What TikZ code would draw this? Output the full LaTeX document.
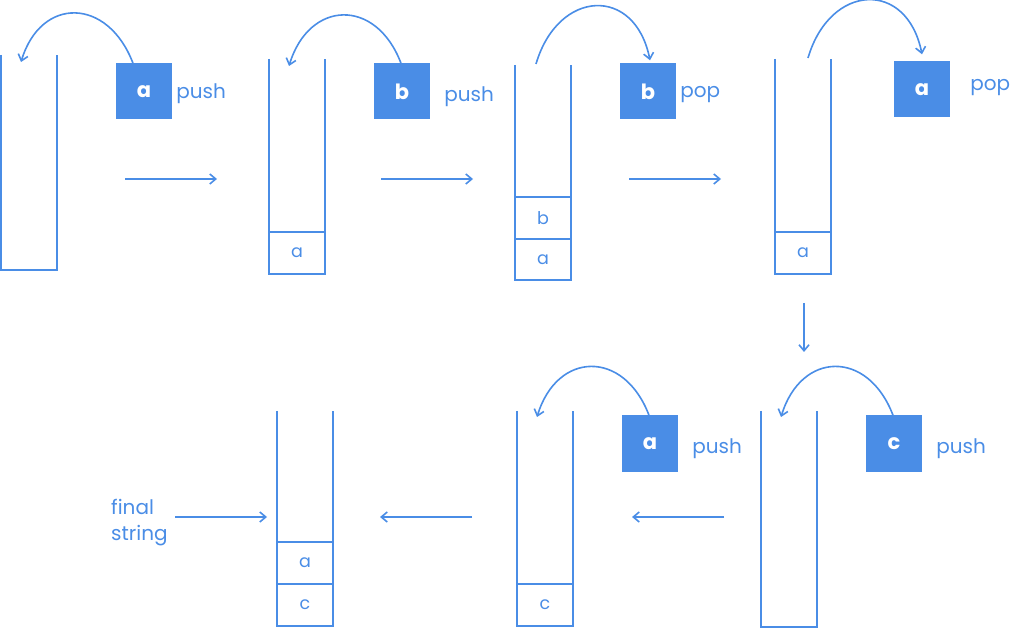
\documentclass[tikz,border=0pt]{standalone}
\usepackage{fontspec}
\setmainfont{Poppins}
\usepackage{tikz}
\usetikzlibrary{arrows.meta,positioning}
\definecolor{stackblue}{RGB}{74,141,230}

\begin{document}
\begin{tikzpicture}[
x=1pt, y=-1pt,
font=\fontsize{20}{26}\selectfont,
every node/.style={text=stackblue},
cell/.style={draw=stackblue, line width=1.6pt, minimum width=56pt, minimum height=42pt, inner sep=0pt, font=\fontsize{17.5}{20}\selectfont},
item/.style={fill=stackblue, minimum size=56pt, inner sep=0pt, text=white, font=\fontsize{21}{24}\selectfont\bfseries},
op/.style={inner sep=0pt},
wall/.style={draw=stackblue, line width=1.6pt},
arr/.style={-{Straight Barb[length=6pt,width=10pt]}, line width=1.6pt, draw=stackblue}
]
\useasboundingbox (0,0) rectangle (1010,628);

% stack walls
\draw[wall] (1,55) |- (57,270) -- (57,55);
\draw[wall] (269,59) |- (325,274) -- (325,59);
\draw[wall] (515,65) |- (571,280) -- (571,65);
\draw[wall] (775,59) |- (831,274) -- (831,59);
\draw[wall] (761,411) |- (817,627) -- (817,411);
\draw[wall] (517,411) |- (573,626) -- (573,411);
\draw[wall] (277,411) |- (333,626) -- (333,411);

% stack contents
\node[cell] (s2a) at (297,253) {a};
\node[cell, minimum height=41pt] (s3a) at (543,259.5) {a};
\node[cell] (s3b) at (543,218) {b};
\node[cell] (s4a) at (803,253) {a};
\node[cell] (s6c) at (545,605) {c};
\node[cell] (s7c) at (305,605) {c};
\node[cell] (s7a) at (305,563) {a};

% moving items
\node[item] (pa) at (144,91.5) {a};
\node[item] (pb) at (402,91.5) {b};
\node[item] (pc) at (648,91.5) {b};
\node[item] (pd) at (922,89.5) {a};
\node[item] (pe) at (894,443.5) {c};
\node[item] (pf) at (650,443.5) {a};
\node[op, right=4pt of pa, yshift=-2pt] (opa) {push};
\node[op, right=14pt of pb, yshift=-5pt] (opb) {push};
\node[op, right=4pt of pc, yshift=-3pt] (opc) {pop};
\node[op, right=20pt of pd, yshift=2pt] (opd) {pop};
\node[op, right=14pt of pe, yshift=-5pt] (ope) {push};
\node[op, right=14pt of pf, yshift=-5pt] (opf) {push};
\node[op, anchor=west, align=left] (final) at (111,523) {final\\string};

% stack tops
\coordinate (in1) at (21,62);
\coordinate (in2) at (289,66);
\coordinate (out3) at (536,64);
\coordinate (out4) at (808,58);
\coordinate (in5) at (781,417);
\coordinate (in6) at (537,417);

\draw[arr] ([xshift=-11pt]pa.north) .. controls +(-25,-66) and +(20,-66) .. (in1);
\draw[arr] ([xshift=-1pt]pb.north) .. controls +(-25,-66) and +(20,-66) .. (in2);
\draw[arr] (out3) .. controls +(22,-75) and +(-15,-75) .. ([shift={(2pt,3pt)}]pc.north);
\draw[arr] (out4) .. controls +(22,-75) and +(-15,-75) .. ([yshift=7pt]pd.north);
\draw[arr] ([xshift=-1pt]pe.north) .. controls +(-25,-66) and +(20,-66) .. (in5);
\draw[arr] ([xshift=-1pt]pf.north) .. controls +(-25,-66) and +(20,-66) .. (in6);

% steps
\coordinate (g1) at (125,179);
\coordinate (h1) at (217,179);
\coordinate (g2) at (381,179);
\coordinate (h2) at (473,179);
\coordinate (g3) at (629,179);
\coordinate (h3) at (721,179);
\coordinate (g4) at (804,303);
\coordinate (h4) at (804,352);
\coordinate (g5) at (724,517);
\coordinate (h5) at (632,517);
\coordinate (g6) at (472,517);
\coordinate (h6) at (380,517);
\coordinate (g7) at (175,517);
\coordinate (h7) at (267,517);
\draw[arr] (g1) -- (h1);
\draw[arr] (g2) -- (h2);
\draw[arr] (g3) -- (h3);
\draw[arr] (g4) -- (h4);
\draw[arr] (g5) -- (h5);
\draw[arr] (g6) -- (h6);
\draw[arr] (g7) -- (h7);
\end{tikzpicture}
\end{document}
